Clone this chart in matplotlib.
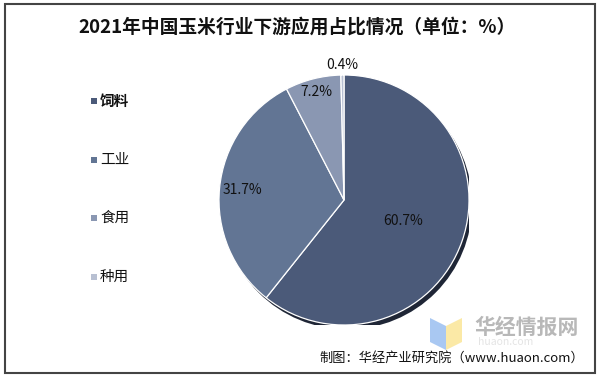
import matplotlib
matplotlib.use("Agg")
import matplotlib.pyplot as plt
import numpy as np
from matplotlib.patches import Rectangle, Circle, Polygon

plt.rcParams['font.family'] = ['Noto Sans CJK SC', 'DejaVu Sans']

categories = ["饲料", "工业", "食用", "种用"]
values = [60.7, 31.7, 7.2, 0.4]
value_labels = ["60.7%", "31.7%", "7.2%", "0.4%"]
colors = ["#4b5a79", "#627594", "#8a97b2", "#b8c0d2"]
label_dist = [0.50, 0.82, 0.89, 1.08]

title = "2021年中国玉米行业下游应用占比情况（单位：%）"
source = "制图：华经产业研究院（www.huaon.com）"

W, H = 600, 377
fig = plt.figure(figsize=(W / 100, H / 100), dpi=100)

# outer frame
bg = fig.add_axes([0, 0, 1, 1])
bg.set_xlim(0, W)
bg.set_ylim(H, 0)
bg.axis("off")
bg.add_patch(Rectangle((5, 4), 590, 369, fill=False, edgecolor="#444444", lw=1.5))

# title
bg.text(297, 27, title, ha="center", va="center", fontsize=13.5, fontweight="bold", color="#111111")

# legend
leg_y = [101, 160, 218, 277]
for i, lab in enumerate(categories):
    y = leg_y[i]
    bg.add_patch(Rectangle((91, y - 3), 6, 6, facecolor=colors[i], edgecolor="none"))
    bg.text(100, y, lab, ha="left", va="center", fontsize=10.5,
            fontweight="bold" if i == 0 else "normal", color="#111111")

# watermark
bg.add_patch(Polygon([(430, 318), (446, 326), (446, 350), (430, 342)], closed=True,
                     facecolor="#a9c8f2", edgecolor="none"))
bg.add_patch(Polygon([(446, 326), (462, 318), (462, 342), (446, 350)], closed=True,
                     facecolor="#fbe9a6", edgecolor="none"))
bg.text(474, 327, "华经情报网", ha="left", va="center", fontsize=15, fontweight="bold", color="#b8b8b8")
bg.text(478, 342, "huaon.com", ha="left", va="center", fontsize=7.5, color="#e4e4e4")

# source
bg.text(584, 358, source, ha="right", va="center", fontsize=9.5, color="#111111")

# pie
cx, cy, r = 344, 200, 125
ax = fig.add_axes([(cx - r) / W, (H - cy - r) / H, 2 * r / W, 2 * r / H])
ax.add_patch(Circle((0.025, -0.035), 1.0, facecolor="#1f2636", edgecolor="none", zorder=0))
wedges, _ = ax.pie(values, colors=colors, startangle=90, counterclock=False,
                   wedgeprops=dict(edgecolor="white", linewidth=0.9))
for w in wedges:
    w.set_zorder(1)
for w, lab, d in zip(wedges, value_labels, label_dist):
    ang = np.deg2rad((w.theta1 + w.theta2) / 2)
    ax.text(d * np.cos(ang), d * np.sin(ang), lab, ha="center", va="center",
            fontsize=10, color="#111111", zorder=3)
ax.set_xlim(-1, 1)
ax.set_ylim(-1, 1)
ax.set_aspect("auto")
ax.axis("off")

fig.savefig("out.png", dpi=100)
